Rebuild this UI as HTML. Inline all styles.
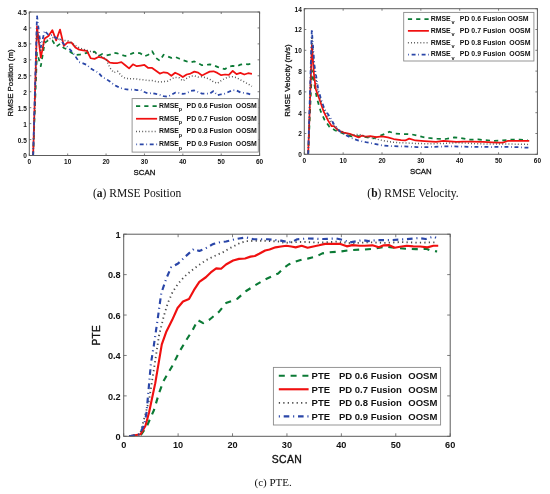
<!DOCTYPE html>
<html><head><meta charset="utf-8"><title>RMSE and PTE plots</title>
<style>
html,body{margin:0;padding:0;background:#fff;}
body{width:550px;height:494px;overflow:hidden;}
svg{display:block;filter:blur(0.3px);}
.t{font-family:'Liberation Sans', Arial, Helvetica, sans-serif;font-weight:bold;fill:#111;}
.l{font-family:'Liberation Sans', Arial, Helvetica, sans-serif;font-weight:normal;fill:#111;stroke:#111;stroke-width:0.28px;}
.c{font-family:'Liberation Serif', 'Times New Roman', serif;fill:#111;}
.lc{font-family:'Liberation Sans', Arial, Helvetica, sans-serif;font-weight:normal;fill:#111;stroke:#111;stroke-width:0.35px;letter-spacing:0.4px;}
</style></head><body>
<svg width="550" height="494" viewBox="0 0 550 494">
<rect width="550" height="494" fill="#fff"/>
<clipPath id="clipa"><rect x="29.3" y="12" width="230.3" height="143.5"/></clipPath>
<polyline points="33.14,155.5 36.98,52.82 40.81,66.21 44.65,42.93 48.49,40.06 52.33,40.38 56.17,46.76 60.01,43.89 63.84,48.03 67.68,49.63 71.52,52.82 75.36,55.05 79.2,54.73 83.04,53.77 86.88,52.82 90.71,52.18 94.55,51.54 98.39,56.01 102.23,54.09 106.07,55.37 109.91,54.73 113.74,52.82 117.58,53.46 121.42,54.73 125.26,56.01 129.1,54.73 132.94,53.14 136.77,52.5 140.61,53.46 144.45,56.33 148.29,54.73 152.13,51.22 155.97,57.92 159.8,60.79 163.64,54.73 167.48,56.33 171.32,57.92 175.16,56.96 179,58.56 182.83,60.15 186.67,61.43 190.51,62.38 194.35,61.43 198.19,63.34 202.03,65.25 205.86,64.94 209.7,64.3 213.54,65.25 217.38,66.85 221.22,68.44 225.06,69.08 228.89,66.53 232.73,65.89 236.57,66.53 240.41,64.62 244.25,63.98 248.09,64.3 251.92,63.66" fill="none" stroke="#0b7a35" stroke-width="1.75" stroke-dasharray="4.2,4.06" stroke-linejoin="round" stroke-linecap="butt" clip-path="url(#clipa)"/>
<polyline points="33.14,155.5 36.98,26.35 40.81,57.6 44.65,38.47 48.49,35.92 52.33,30.18 56.17,40.38 60.01,29.54 63.84,45.8 67.68,42.29 71.52,42.61 75.36,47.4 79.2,49.63 83.04,50.27 86.88,50.9 90.71,58.24 94.55,58.88 98.39,56.96 102.23,57.6 106.07,59.51 109.91,62.7 113.74,63.02 117.58,63.02 121.42,62.07 125.26,65.25 129.1,68.44 132.94,64.3 136.77,66.21 140.61,65.57 144.45,64.94 148.29,67.97 152.13,67.97 155.97,70.68 159.8,73.55 163.64,72.27 167.48,72.91 171.32,75.78 175.16,72.75 179,74.5 182.83,77.05 186.67,74.5 190.51,73.55 194.35,71.63 198.19,72.59 202.03,75.46 205.86,73.55 209.7,71.63 213.54,71.31 217.38,72.91 221.22,75.14 225.06,74.5 228.89,74.82 232.73,70.99 236.57,74.18 240.41,72.91 244.25,74.5 248.09,73.23 251.92,73.86" fill="none" stroke="#f01010" stroke-width="1.75" stroke-linejoin="round" stroke-linecap="butt" clip-path="url(#clipa)"/>
<polyline points="33.14,155.5 36.98,31.13 40.81,50.27 44.65,41.66 48.49,39.42 52.33,37.51 56.17,38.15 60.01,39.42 63.84,40.38 67.68,40.7 71.52,42.61 75.36,45.48 79.2,47.72 83.04,49.31 86.88,50.27 90.71,51.54 94.55,52.5 98.39,55.37 102.23,56.96 106.07,59.2 109.91,67.81 113.74,72.59 117.58,71.31 121.42,75.78 125.26,78.33 129.1,78.65 132.94,78.65 136.77,78.97 140.61,79.6 144.45,79.92 148.29,80.56 152.13,80.56 155.97,81.52 159.8,82.16 163.64,81.52 167.48,81.2 171.32,78.97 175.16,77.37 179,77.69 182.83,80.88 186.67,78.33 190.51,76.1 194.35,75.78 198.19,77.05 202.03,76.73 205.86,77.69 209.7,79.29 213.54,81.84 217.38,83.43 221.22,80.56 225.06,78.33 228.89,77.05 232.73,76.73 236.57,77.69 240.41,79.92 244.25,81.84 248.09,84.07 251.92,86.3" fill="none" stroke="#4a4a4a" stroke-width="1.4875" stroke-dasharray="0.88,2.24" stroke-linejoin="round" stroke-linecap="butt" clip-path="url(#clipa)"/>
<polyline points="33.14,155.5 36.98,15.51 40.81,47.08 44.65,30.81 48.49,34.96 52.33,35.28 56.17,38.15 60.01,39.42 63.84,44.21 67.68,47.08 71.52,51.22 75.36,56.33 79.2,62.07 83.04,63.34 86.88,64.94 90.71,68.44 94.55,70.68 98.39,72.59 102.23,77.05 106.07,78.97 109.91,81.52 113.74,84.71 117.58,86.62 121.42,88.21 125.26,89.17 129.1,89.81 132.94,89.49 136.77,90.13 140.61,89.81 144.45,92.04 148.29,93.64 152.13,93 155.97,93.95 159.8,94.91 163.64,96.19 167.48,96.82 171.32,94.91 175.16,92.68 179,93 182.83,93.95 186.67,93.32 190.51,91.08 194.35,90.45 198.19,92.04 202.03,93.64 205.86,93.64 209.7,93.64 213.54,91.08 217.38,95.23 221.22,94.27 225.06,93.64 228.89,91.72 232.73,90.13 236.57,90.45 240.41,92.36 244.25,93 248.09,93.64 251.92,94.91" fill="none" stroke="#2a46a8" stroke-width="1.75" stroke-dasharray="3.92,2.66,0.77,2.66" stroke-linejoin="round" stroke-linecap="butt" clip-path="url(#clipa)"/>
<path d="M29.3 155.5v-2M29.3 12v2M67.68 155.5v-2M67.68 12v2M106.07 155.5v-2M106.07 12v2M144.45 155.5v-2M144.45 12v2M182.83 155.5v-2M182.83 12v2M221.22 155.5v-2M221.22 12v2M259.6 155.5v-2M259.6 12v2M29.3 155.5h2M259.6 155.5h-2M29.3 139.56h2M259.6 139.56h-2M29.3 123.61h2M259.6 123.61h-2M29.3 107.67h2M259.6 107.67h-2M29.3 91.72h2M259.6 91.72h-2M29.3 75.78h2M259.6 75.78h-2M29.3 59.83h2M259.6 59.83h-2M29.3 43.89h2M259.6 43.89h-2M29.3 27.94h2M259.6 27.94h-2M29.3 12h2M259.6 12h-2" stroke="#5c5c5c" stroke-width="0.8" fill="none"/>
<rect x="29.3" y="12" width="230.3" height="143.5" fill="none" stroke="#5c5c5c" stroke-width="1.0"/>
<text x="26.8" y="158.44" text-anchor="end" class="t" style="font-size:6.5px">0</text>
<text x="26.8" y="142.5" text-anchor="end" class="t" style="font-size:6.5px">0.5</text>
<text x="26.8" y="126.55" text-anchor="end" class="t" style="font-size:6.5px">1</text>
<text x="26.8" y="110.61" text-anchor="end" class="t" style="font-size:6.5px">1.5</text>
<text x="26.8" y="94.66" text-anchor="end" class="t" style="font-size:6.5px">2</text>
<text x="26.8" y="78.72" text-anchor="end" class="t" style="font-size:6.5px">2.5</text>
<text x="26.8" y="62.77" text-anchor="end" class="t" style="font-size:6.5px">3</text>
<text x="26.8" y="46.83" text-anchor="end" class="t" style="font-size:6.5px">3.5</text>
<text x="26.8" y="30.88" text-anchor="end" class="t" style="font-size:6.5px">4</text>
<text x="26.8" y="14.94" text-anchor="end" class="t" style="font-size:6.5px">4.5</text>
<text x="29.3" y="164.18" text-anchor="middle" class="t" style="font-size:6.5px">0</text>
<text x="67.68" y="164.18" text-anchor="middle" class="t" style="font-size:6.5px">10</text>
<text x="106.07" y="164.18" text-anchor="middle" class="t" style="font-size:6.5px">20</text>
<text x="144.45" y="164.18" text-anchor="middle" class="t" style="font-size:6.5px">30</text>
<text x="182.83" y="164.18" text-anchor="middle" class="t" style="font-size:6.5px">40</text>
<text x="221.22" y="164.18" text-anchor="middle" class="t" style="font-size:6.5px">50</text>
<text x="259.6" y="164.18" text-anchor="middle" class="t" style="font-size:6.5px">60</text>
<text x="144.45" y="174.7" text-anchor="middle" class="l" style="font-size:7.8px">SCAN</text>
<text transform="translate(12.95,82.85) rotate(-90)" text-anchor="middle" class="l" style="font-size:7.9px">RMSE Position (m)</text>
<rect x="132.1" y="98.6" width="126.2" height="53.5" fill="#fff" stroke="#8a8a8a" stroke-width="0.9"/>
<line x1="136" y1="106" x2="157.1" y2="106" stroke="#0b7a35" stroke-width="1.75" stroke-dasharray="4.2,4.06"/>
<text x="159" y="107.8" class="t" style="font-size:6.9px">RMSE</text>
<text x="178.8" y="107.8" class="t" style="font-size:6.9px"><tspan dy="3.45" style="font-size:5.52px">p</tspan></text>
<text x="186.6" y="107.8" class="t" style="font-size:6.9px">PD 0.6 Fusion</text>
<text x="235.8" y="107.8" class="t" style="font-size:6.9px">OOSM</text>
<line x1="136" y1="118.75" x2="157.1" y2="118.75" stroke="#f01010" stroke-width="1.75"/>
<text x="159" y="120.55" class="t" style="font-size:6.9px">RMSE</text>
<text x="178.8" y="120.55" class="t" style="font-size:6.9px"><tspan dy="3.45" style="font-size:5.52px">p</tspan></text>
<text x="186.6" y="120.55" class="t" style="font-size:6.9px">PD 0.7 Fusion</text>
<text x="235.8" y="120.55" class="t" style="font-size:6.9px">OOSM</text>
<line x1="136" y1="131.5" x2="157.1" y2="131.5" stroke="#4a4a4a" stroke-width="1.4875" stroke-dasharray="0.88,2.24"/>
<text x="159" y="133.3" class="t" style="font-size:6.9px">RMSE</text>
<text x="178.8" y="133.3" class="t" style="font-size:6.9px"><tspan dy="3.45" style="font-size:5.52px">p</tspan></text>
<text x="186.6" y="133.3" class="t" style="font-size:6.9px">PD 0.8 Fusion</text>
<text x="235.8" y="133.3" class="t" style="font-size:6.9px">OOSM</text>
<line x1="136" y1="144.25" x2="157.1" y2="144.25" stroke="#2a46a8" stroke-width="1.75" stroke-dasharray="3.92,2.66,0.77,2.66" stroke-dashoffset="6.28"/>
<text x="159" y="146.05" class="t" style="font-size:6.9px">RMSE</text>
<text x="178.8" y="146.05" class="t" style="font-size:6.9px"><tspan dy="3.45" style="font-size:5.52px">p</tspan></text>
<text x="186.6" y="146.05" class="t" style="font-size:6.9px">PD 0.9 Fusion</text>
<text x="235.8" y="146.05" class="t" style="font-size:6.9px">OOSM</text>
<clipPath id="clipb"><rect x="304.3" y="8.7" width="233.1" height="145.6"/></clipPath>
<polyline points="308.19,154.3 311.88,70.06 314.6,85.66 317,98.87 320.62,111.04 324.31,119.46 329.55,126.95 335.38,130.48 343.93,133.71 351.31,136.41 358.69,136.1 366.07,137.14 373.06,138.49 380.45,135.58 387.83,132.67 389.38,131.73 395.21,133.6 403.76,134.02 411.14,134.23 419.3,136.1 422.4,136.93 428.62,137.97 436.78,138.6 445.33,139.01 454.65,137.45 460.48,137.97 469.02,139.74 478.35,139.43 485.73,140.16 493.5,140.78 500.49,140.57 510.59,139.74 519.92,139.74 527.69,140.05" fill="none" stroke="#0b7a35" stroke-width="1.75" stroke-dasharray="4.2,4.06" stroke-linejoin="round" stroke-linecap="butt" clip-path="url(#clipb)"/>
<polyline points="308.19,154.3 311.88,45.1 314.01,74.64 315.8,89.2 319.45,99.18 323.73,111.66 328,120.4 331.69,126.22 333.83,126.22 338.29,130.48 343.93,132.67 349.75,133.92 354.42,135.58 358.69,137.45 362.19,135.58 366.07,136.72 370.35,136.1 376.17,137.14 382,136.41 387.83,137.45 393.65,139.01 401.04,140.05 405.31,140.47 409.19,138.6 415.41,140.47 424.35,141.2 436,141.92 443.38,140.88 456.2,141.92 463.58,141.61 470.58,141.61 483.01,141.82 496.61,142.55 502.82,142.55 507.49,140.99 516.81,140.99 529.24,140.99" fill="none" stroke="#f01010" stroke-width="1.75" stroke-linejoin="round" stroke-linecap="butt" clip-path="url(#clipb)"/>
<polyline points="308.19,154.3 311.88,37.82 314.4,69.02 317.9,91.9 321.78,103.34 325.67,112.7 330.72,121.02 335.38,127.26 340.82,130.9 347.04,134.02 352.86,135.06 358.69,134.23 366.07,136.62 373.06,138.18 380.45,140.05 387.83,141.51 393.65,142.24 399.48,142.65 414.25,143.38 428.62,143.8 444.16,143.38 457.76,142.65 475.24,143.69 490.78,144.11 506.32,143.9 517.97,144.21 529.63,144.42" fill="none" stroke="#4a4a4a" stroke-width="1.4875" stroke-dasharray="0.88,2.24" stroke-linejoin="round" stroke-linecap="butt" clip-path="url(#clipb)"/>
<polyline points="308.19,154.3 311.8,29.5 314.4,64.86 318.21,89.2 321.32,100.12 324.5,109.06 329.55,116.34 333.83,124.04 339.65,131.32 345.48,134.85 351.31,138.08 358.69,140.68 366.07,142.24 373.06,143.59 380.45,145.15 387.83,145.98 399.48,146.29 416.96,147.02 428.62,147.02 448.82,146.29 460.48,146.71 475.24,146.81 490.78,147.02 506.32,146.81 517.97,147.23 529.63,147.75" fill="none" stroke="#2a46a8" stroke-width="1.75" stroke-dasharray="3.92,2.66,0.77,2.66" stroke-linejoin="round" stroke-linecap="butt" clip-path="url(#clipb)"/>
<path d="M304.3 154.3v-2M304.3 8.7v2M343.15 154.3v-2M343.15 8.7v2M382 154.3v-2M382 8.7v2M420.85 154.3v-2M420.85 8.7v2M459.7 154.3v-2M459.7 8.7v2M498.55 154.3v-2M498.55 8.7v2M537.4 154.3v-2M537.4 8.7v2M304.3 154.3h2M537.4 154.3h-2M304.3 133.5h2M537.4 133.5h-2M304.3 112.7h2M537.4 112.7h-2M304.3 91.9h2M537.4 91.9h-2M304.3 71.1h2M537.4 71.1h-2M304.3 50.3h2M537.4 50.3h-2M304.3 29.5h2M537.4 29.5h-2M304.3 8.7h2M537.4 8.7h-2" stroke="#5c5c5c" stroke-width="0.8" fill="none"/>
<rect x="304.3" y="8.7" width="233.1" height="145.6" fill="none" stroke="#5c5c5c" stroke-width="1.0"/>
<text x="301.8" y="157.24" text-anchor="end" class="t" style="font-size:6.5px">0</text>
<text x="301.8" y="136.44" text-anchor="end" class="t" style="font-size:6.5px">2</text>
<text x="301.8" y="115.64" text-anchor="end" class="t" style="font-size:6.5px">4</text>
<text x="301.8" y="94.84" text-anchor="end" class="t" style="font-size:6.5px">6</text>
<text x="301.8" y="74.04" text-anchor="end" class="t" style="font-size:6.5px">8</text>
<text x="301.8" y="53.24" text-anchor="end" class="t" style="font-size:6.5px">10</text>
<text x="301.8" y="32.44" text-anchor="end" class="t" style="font-size:6.5px">12</text>
<text x="301.8" y="11.64" text-anchor="end" class="t" style="font-size:6.5px">14</text>
<text x="304.3" y="162.98" text-anchor="middle" class="t" style="font-size:6.5px">0</text>
<text x="343.15" y="162.98" text-anchor="middle" class="t" style="font-size:6.5px">10</text>
<text x="382" y="162.98" text-anchor="middle" class="t" style="font-size:6.5px">20</text>
<text x="420.85" y="162.98" text-anchor="middle" class="t" style="font-size:6.5px">30</text>
<text x="459.7" y="162.98" text-anchor="middle" class="t" style="font-size:6.5px">40</text>
<text x="498.55" y="162.98" text-anchor="middle" class="t" style="font-size:6.5px">50</text>
<text x="537.4" y="162.98" text-anchor="middle" class="t" style="font-size:6.5px">60</text>
<text x="420.85" y="173.5" text-anchor="middle" class="l" style="font-size:7.8px">SCAN</text>
<text transform="translate(290.4,80.6) rotate(-90)" text-anchor="middle" class="l" style="font-size:7.9px">RMSE Velocity (m/s)</text>
<rect x="403.7" y="12.4" width="130.2" height="48.6" fill="#fff" stroke="#8a8a8a" stroke-width="0.9"/>
<line x1="407.9" y1="19" x2="428.9" y2="19" stroke="#0b7a35" stroke-width="1.75" stroke-dasharray="4.2,4.06"/>
<text x="430.7" y="20.8" class="t" style="font-size:6.95px">RMSE</text>
<text x="451.4" y="20.8" class="t" style="font-size:6.95px"><tspan dy="3.48" style="font-size:5.56px">v</tspan></text>
<text x="459.8" y="20.8" class="t" style="font-size:6.95px">PD 0.6 Fusion</text>
<text x="507.4" y="20.8" class="t" style="font-size:6.95px">OOSM</text>
<line x1="407.9" y1="30.85" x2="428.9" y2="30.85" stroke="#f01010" stroke-width="1.75"/>
<text x="430.7" y="32.65" class="t" style="font-size:6.95px">RMSE</text>
<text x="451.4" y="32.65" class="t" style="font-size:6.95px"><tspan dy="3.48" style="font-size:5.56px">v</tspan></text>
<text x="459.8" y="32.65" class="t" style="font-size:6.95px">PD 0.7 Fusion</text>
<text x="509.3" y="32.65" class="t" style="font-size:6.95px">OOSM</text>
<line x1="407.9" y1="42.7" x2="428.9" y2="42.7" stroke="#4a4a4a" stroke-width="1.4875" stroke-dasharray="0.88,2.24"/>
<text x="430.7" y="44.5" class="t" style="font-size:6.95px">RMSE</text>
<text x="451.4" y="44.5" class="t" style="font-size:6.95px"><tspan dy="3.48" style="font-size:5.56px">v</tspan></text>
<text x="459.8" y="44.5" class="t" style="font-size:6.95px">PD 0.8 Fusion</text>
<text x="509.3" y="44.5" class="t" style="font-size:6.95px">OOSM</text>
<line x1="407.9" y1="54.55" x2="428.9" y2="54.55" stroke="#2a46a8" stroke-width="1.75" stroke-dasharray="3.92,2.66,0.77,2.66" stroke-dashoffset="6.28"/>
<text x="430.7" y="56.35" class="t" style="font-size:6.95px">RMSE</text>
<text x="451.4" y="56.35" class="t" style="font-size:6.95px"><tspan dy="3.48" style="font-size:5.56px">v</tspan></text>
<text x="459.8" y="56.35" class="t" style="font-size:6.95px">PD 0.9 Fusion</text>
<text x="509.3" y="56.35" class="t" style="font-size:6.95px">OOSM</text>
<clipPath id="clipc"><rect x="123.7" y="234.2" width="326.5" height="202.1"/></clipPath>
<polyline points="129.14,436.3 140.57,435.29 146.56,426.8 154.01,410.03 159.07,392.85 163.7,380.72 172.13,366.17 179.48,351.62 186.82,339.29 192.81,329.79 197.71,320.09 203.15,323.12 209.68,319.49 218.93,311.81 226,303.12 237.43,298.67 246.14,290.99 254.84,285.53 264.64,279.67 275.52,274.62 278.24,273.41 283.14,268.56 288.58,264.51 294.02,262.09 300.55,260.07 307.63,258.65 316.33,256.43 322.32,253.4 327.76,252.39 339.73,251.58 349.53,250.17 359.87,249.56 364.77,249.56 373.47,248.75 386.53,246.53 394.15,247.74 405.58,248.75 415.92,249.16 426.26,248.75 431.7,250.97 437.14,251.38" fill="none" stroke="#0b7a35" stroke-width="2.15" stroke-dasharray="6,5.8" stroke-linejoin="round" stroke-linecap="butt" clip-path="url(#clipc)"/>
<polyline points="129.14,436.3 140.57,434.28 145.47,425.79 149.11,412.25 155.26,383.15 161.79,344.34 166.15,332.02 172.13,320.09 177.57,307.97 183.01,301.5 189,299.07 193.9,290.18 199.34,281.9 205.87,277.25 210.77,272.4 216.21,268.35 221.11,268.76 226,264.51 233.08,260.47 239.06,258.86 245.05,258.45 250.49,256.63 254.84,256.03 259.2,253.8 265.18,250.57 269.54,249.56 275.52,247.34 280.96,246.53 286.41,245.72 291.3,246.53 295.66,247.34 301.64,245.72 307.63,247.74 319.06,245.32 325.04,243.9 339.73,243.7 346.81,246.33 352.25,245.11 359.87,245.72 364.77,245.72 372.38,245.32 378.91,247.34 383.81,245.32 389.25,245.11 394.69,247.74 400.14,246.73 406.67,245.72 413.2,246.33 420.27,246.53 427.34,247.34 433.33,245.72 438.23,245.72" fill="none" stroke="#f01010" stroke-width="2.15" stroke-linejoin="round" stroke-linecap="butt" clip-path="url(#clipc)"/>
<polyline points="129.14,436.3 140.03,434.28 149.11,399.92 154.01,368.6 159.07,335.25 163.81,316.05 167.78,303.12 172.68,291.8 178.12,283.71 184.65,276.44 191.18,270.78 198.8,265.12 205.87,260.27 214.03,256.23 222.74,252.39 228.72,248.75 234.71,245.72 240.15,242.89 246.68,241.07 263.55,240.67 278.24,241.48 285.32,242.89 291.3,242.28 303.28,241.88 319.6,242.69 335.93,241.68 352.25,243.29 368.57,242.28 384.9,242.89 401.22,242.08 417.55,242.69 436.6,242.28" fill="none" stroke="#4a4a4a" stroke-width="1.8275" stroke-dasharray="1.25,3.2" stroke-linejoin="round" stroke-linecap="butt" clip-path="url(#clipc)"/>
<polyline points="129.14,436.3 139.48,434.28 144.38,424.38 146.56,412.25 148.73,387.8 150.91,363.54 154.01,344.34 158.09,316.05 161.25,293.42 166.15,278.86 171.04,267.55 178.12,263.5 185.74,256.23 193.9,248.95 199.34,250.97 205.87,248.14 212.94,244.1 220.02,242.28 226,241.48 232.53,239.86 239.06,238.44 246.14,237.43 253.76,239.25 267.9,239.25 280.96,240.67 288.58,242.28 292.94,241.48 297.29,239.25 307.63,238.44 323.41,239.05 336.47,238.44 344.09,240.26 349.53,242.49 362.59,240.06 368.57,241.07 377.83,240.06 391.43,240.06 405.03,239.25 418.64,238.04 425.71,239.05 433.33,236.63 436.05,237.84" fill="none" stroke="#2a46a8" stroke-width="2.15" stroke-dasharray="5.6,3.8,1.1,3.8" stroke-linejoin="round" stroke-linecap="butt" clip-path="url(#clipc)"/>
<path d="M123.7 436.3v-3M123.7 234.2v3M178.12 436.3v-3M178.12 234.2v3M232.53 436.3v-3M232.53 234.2v3M286.95 436.3v-3M286.95 234.2v3M341.37 436.3v-3M341.37 234.2v3M395.78 436.3v-3M395.78 234.2v3M450.2 436.3v-3M450.2 234.2v3M123.7 436.3h3M450.2 436.3h-3M123.7 395.88h3M450.2 395.88h-3M123.7 355.46h3M450.2 355.46h-3M123.7 315.04h3M450.2 315.04h-3M123.7 274.62h3M450.2 274.62h-3M123.7 234.2h3M450.2 234.2h-3" stroke="#5c5c5c" stroke-width="0.8" fill="none"/>
<rect x="123.7" y="234.2" width="326.5" height="202.1" fill="none" stroke="#5c5c5c" stroke-width="1.0"/>
<text x="120.7" y="440.01" text-anchor="end" class="t" style="font-size:9.2px">0</text>
<text x="120.7" y="399.59" text-anchor="end" class="t" style="font-size:9.2px">0.2</text>
<text x="120.7" y="359.17" text-anchor="end" class="t" style="font-size:9.2px">0.4</text>
<text x="120.7" y="318.75" text-anchor="end" class="t" style="font-size:9.2px">0.6</text>
<text x="120.7" y="278.33" text-anchor="end" class="t" style="font-size:9.2px">0.8</text>
<text x="120.7" y="237.91" text-anchor="end" class="t" style="font-size:9.2px">1</text>
<text x="123.7" y="447.92" text-anchor="middle" class="t" style="font-size:9.2px">0</text>
<text x="178.12" y="447.92" text-anchor="middle" class="t" style="font-size:9.2px">10</text>
<text x="232.53" y="447.92" text-anchor="middle" class="t" style="font-size:9.2px">20</text>
<text x="286.95" y="447.92" text-anchor="middle" class="t" style="font-size:9.2px">30</text>
<text x="341.37" y="447.92" text-anchor="middle" class="t" style="font-size:9.2px">40</text>
<text x="395.78" y="447.92" text-anchor="middle" class="t" style="font-size:9.2px">50</text>
<text x="450.2" y="447.92" text-anchor="middle" class="t" style="font-size:9.2px">60</text>
<text x="286.95" y="463.2" text-anchor="middle" class="lc" style="font-size:10.4px">SCAN</text>
<text transform="translate(100.2,335.25) rotate(-90)" text-anchor="middle" class="lc" style="font-size:10.0px">PTE</text>
<rect x="273.4" y="367.4" width="167.2" height="57.6" fill="#fff" stroke="#8a8a8a" stroke-width="0.9"/>
<line x1="278.8" y1="375.7" x2="308.6" y2="375.7" stroke="#0b7a35" stroke-width="2.15" stroke-dasharray="6,5.8"/>
<text x="311.6" y="379.1" class="t" style="font-size:9.5px">PTE</text>
<text x="339" y="379.1" class="t" style="font-size:9.5px">PD 0.6 Fusion</text>
<text x="408.3" y="379.1" class="t" style="font-size:9.5px">OOSM</text>
<line x1="278.8" y1="389.27" x2="308.6" y2="389.27" stroke="#f01010" stroke-width="2.15"/>
<text x="311.6" y="392.67" class="t" style="font-size:9.5px">PTE</text>
<text x="339" y="392.67" class="t" style="font-size:9.5px">PD 0.7 Fusion</text>
<text x="408.3" y="392.67" class="t" style="font-size:9.5px">OOSM</text>
<line x1="278.8" y1="402.84" x2="308.6" y2="402.84" stroke="#4a4a4a" stroke-width="1.8275" stroke-dasharray="1.25,3.2"/>
<text x="311.6" y="406.24" class="t" style="font-size:9.5px">PTE</text>
<text x="339" y="406.24" class="t" style="font-size:9.5px">PD 0.8 Fusion</text>
<text x="408.3" y="406.24" class="t" style="font-size:9.5px">OOSM</text>
<line x1="278.8" y1="416.41" x2="308.6" y2="416.41" stroke="#2a46a8" stroke-width="2.15" stroke-dasharray="5.6,3.8,1.1,3.8" stroke-dashoffset="9.4"/>
<text x="311.6" y="419.81" class="t" style="font-size:9.5px">PTE</text>
<text x="339" y="419.81" class="t" style="font-size:9.5px">PD 0.9 Fusion</text>
<text x="408.3" y="419.81" class="t" style="font-size:9.5px">OOSM</text>
<text x="93" y="197" class="c" style="font-size:11.5px">(<tspan font-weight="bold">a</tspan>) RMSE Position</text>
<text x="367.3" y="197.3" class="c" style="font-size:11.5px">(<tspan font-weight="bold">b</tspan>) RMSE Velocity.</text>
<text x="254.5" y="485.8" class="c" style="font-size:11px">(c) PTE.</text>
</svg>
</body></html>
